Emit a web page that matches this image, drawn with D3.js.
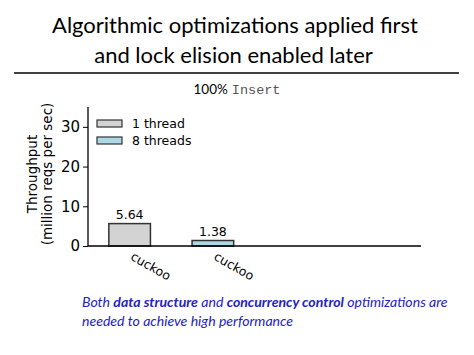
<!DOCTYPE html>
<html>
<head>
<meta charset="utf-8">
<script src="https://cdn.jsdelivr.net/npm/d3@7"></script>
<style>
  body { margin: 0; background: #fff; }
  svg { display: block; }
</style>
</head>
<body>
<div id="chart"></div>
<script>
// données
const categories = ["cuckoo", "cuckoo", "", ""];
const series     = ["1 thread", "8 threads"];
const valeurs    = [5.64, 1.38, null, null];
const serieBarre = [0, 1, null, null];   // quelle série pour chaque barre
const ticksY     = [0, 10, 20, 30];
const couleurs   = ["#d3d3d3", "#add8e6"];

const titre = ["Algorithmic optimizations applied first", "and lock elision enabled later"];

const largeur = 474, hauteur = 355;
const svg = d3.select("#chart").append("svg")
    .attr("width", largeur).attr("height", hauteur);

const policeTitre = "Lato, 'Open Sans', sans-serif";
const policeGraph = "'DejaVu Sans', sans-serif";

// ajuste la taille de police pour une largeur cible
function ajuster(sel, cible) {
    const l = sel.node().getComputedTextLength();
    const fs = parseFloat(sel.attr("font-size"));
    sel.attr("font-size", fs * cible / l);
}

// Titre
const t1 = svg.append("text").attr("x", 235).attr("y", 33).attr("text-anchor", "middle")
    .attr("font-family", policeTitre).attr("font-size", 22).text(titre[0]);
ajuster(t1, 366);
svg.append("text").attr("x", 233.5).attr("y", 63).attr("text-anchor", "middle")
    .attr("font-family", policeTitre).attr("font-size", t1.attr("font-size")).text(titre[1]);

svg.append("line").attr("x1", 14).attr("x2", 459).attr("y1", 73).attr("y2", 73)
    .attr("stroke", "#000").attr("stroke-width", 1.5);

// Sous-titre
const st = svg.append("text").attr("x", 237).attr("y", 94).attr("text-anchor", "middle")
    .attr("font-size", 13.5);
st.append("tspan").attr("font-family", policeTitre).attr("fill", "#000").text("100%");
st.append("tspan").attr("font-family", "'Liberation Mono', monospace").attr("fill", "#555")
    .attr("dx", 4).text("Insert");

// Echelles
const x = d3.scaleBand().domain(d3.range(categories.length)).range([88, 421])
    .paddingInner(0.5).paddingOuter(0.25);
const y = d3.scaleLinear().domain([0, 35]).range([246, 107]);

const g = svg.append("g");

// Barres
const donnees = valeurs.map((v, i) => ({ v, i, s: serieBarre[i], cat: categories[i] }))
    .filter(d => d.v != null);

g.selectAll(".barre").data(donnees).join("rect")
    .attr("x", d => x(d.i)).attr("width", x.bandwidth())
    .attr("y", d => y(d.v)).attr("height", d => y(0) - y(d.v))
    .attr("fill", d => couleurs[d.s]).attr("stroke", "#333").attr("stroke-width", 1.5);

g.selectAll(".valeur").data(donnees).join("text")
    .attr("x", d => x(d.i) + x.bandwidth() / 2).attr("y", d => y(d.v) - 5)
    .attr("text-anchor", "middle").attr("font-family", policeGraph).attr("font-size", 12.5)
    .text(d => d.v.toFixed(2));

// Axe Y
const axeY = g.append("g").attr("transform", "translate(88,0)")
    .call(d3.axisLeft(y).tickValues(ticksY).tickSize(5).tickPadding(3));
axeY.select(".domain").attr("stroke", "#000").attr("stroke-width", 1.3).attr("d", "M0,107V246");
axeY.selectAll("text").attr("font-family", policeGraph).attr("font-size", 15).attr("fill", "#000");

// Axe X
g.append("line").attr("x1", 88).attr("x2", 421).attr("y1", 246).attr("y2", 246)
    .attr("stroke", "#000").attr("stroke-width", 1.3);

g.selectAll(".cat").data(donnees).join("text")
    .attr("transform", d => `translate(${x(d.i) + x.bandwidth() / 2},${259}) rotate(30)`)
    .attr("font-family", policeGraph).attr("font-size", 12.5)
    .text(d => d.cat);

// Titre axe Y
const ty = g.append("text").attr("transform", "translate(0,174) rotate(-90)")
    .attr("text-anchor", "middle").attr("font-family", policeGraph).attr("font-size", 13.5);
ty.append("tspan").attr("x", 0).attr("y", 37).text("Throughput");
ty.append("tspan").attr("x", 0).attr("y", 52).text("(million reqs per sec)");

// Légende
const leg = g.selectAll(".leg").data(series).join("g")
    .attr("transform", (d, i) => `translate(97,${120 + i * 17})`);
leg.append("rect").attr("width", 25).attr("height", 7)
    .attr("fill", (d, i) => couleurs[i]).attr("stroke", "#333").attr("stroke-width", 1.2);
leg.append("text").attr("x", 35).attr("y", 8)
    .attr("font-family", policeGraph).attr("font-size", 12.5).text(d => d);

// Conclusion
const conc = [
  [["Both ", false], ["data structure", true], [" and ", false], ["concurrency control", true], [" optimizations are", false]],
  [["needed to achieve high performance", false]]
];
let tailleConc = 14;
conc.forEach((ligne, k) => {
  const t = svg.append("text").attr("x", 82).attr("y", 307 + k * 19)
      .attr("font-family", policeTitre).attr("font-size", tailleConc)
      .attr("font-style", "italic").attr("fill", "#2323c0");
  ligne.forEach(([s, gras]) => t.append("tspan").attr("font-weight", gras ? "bold" : "normal").text(s));
  if (k === 0) { ajuster(t, 366); tailleConc = +t.attr("font-size"); }
});
</script>
</body>
</html>
